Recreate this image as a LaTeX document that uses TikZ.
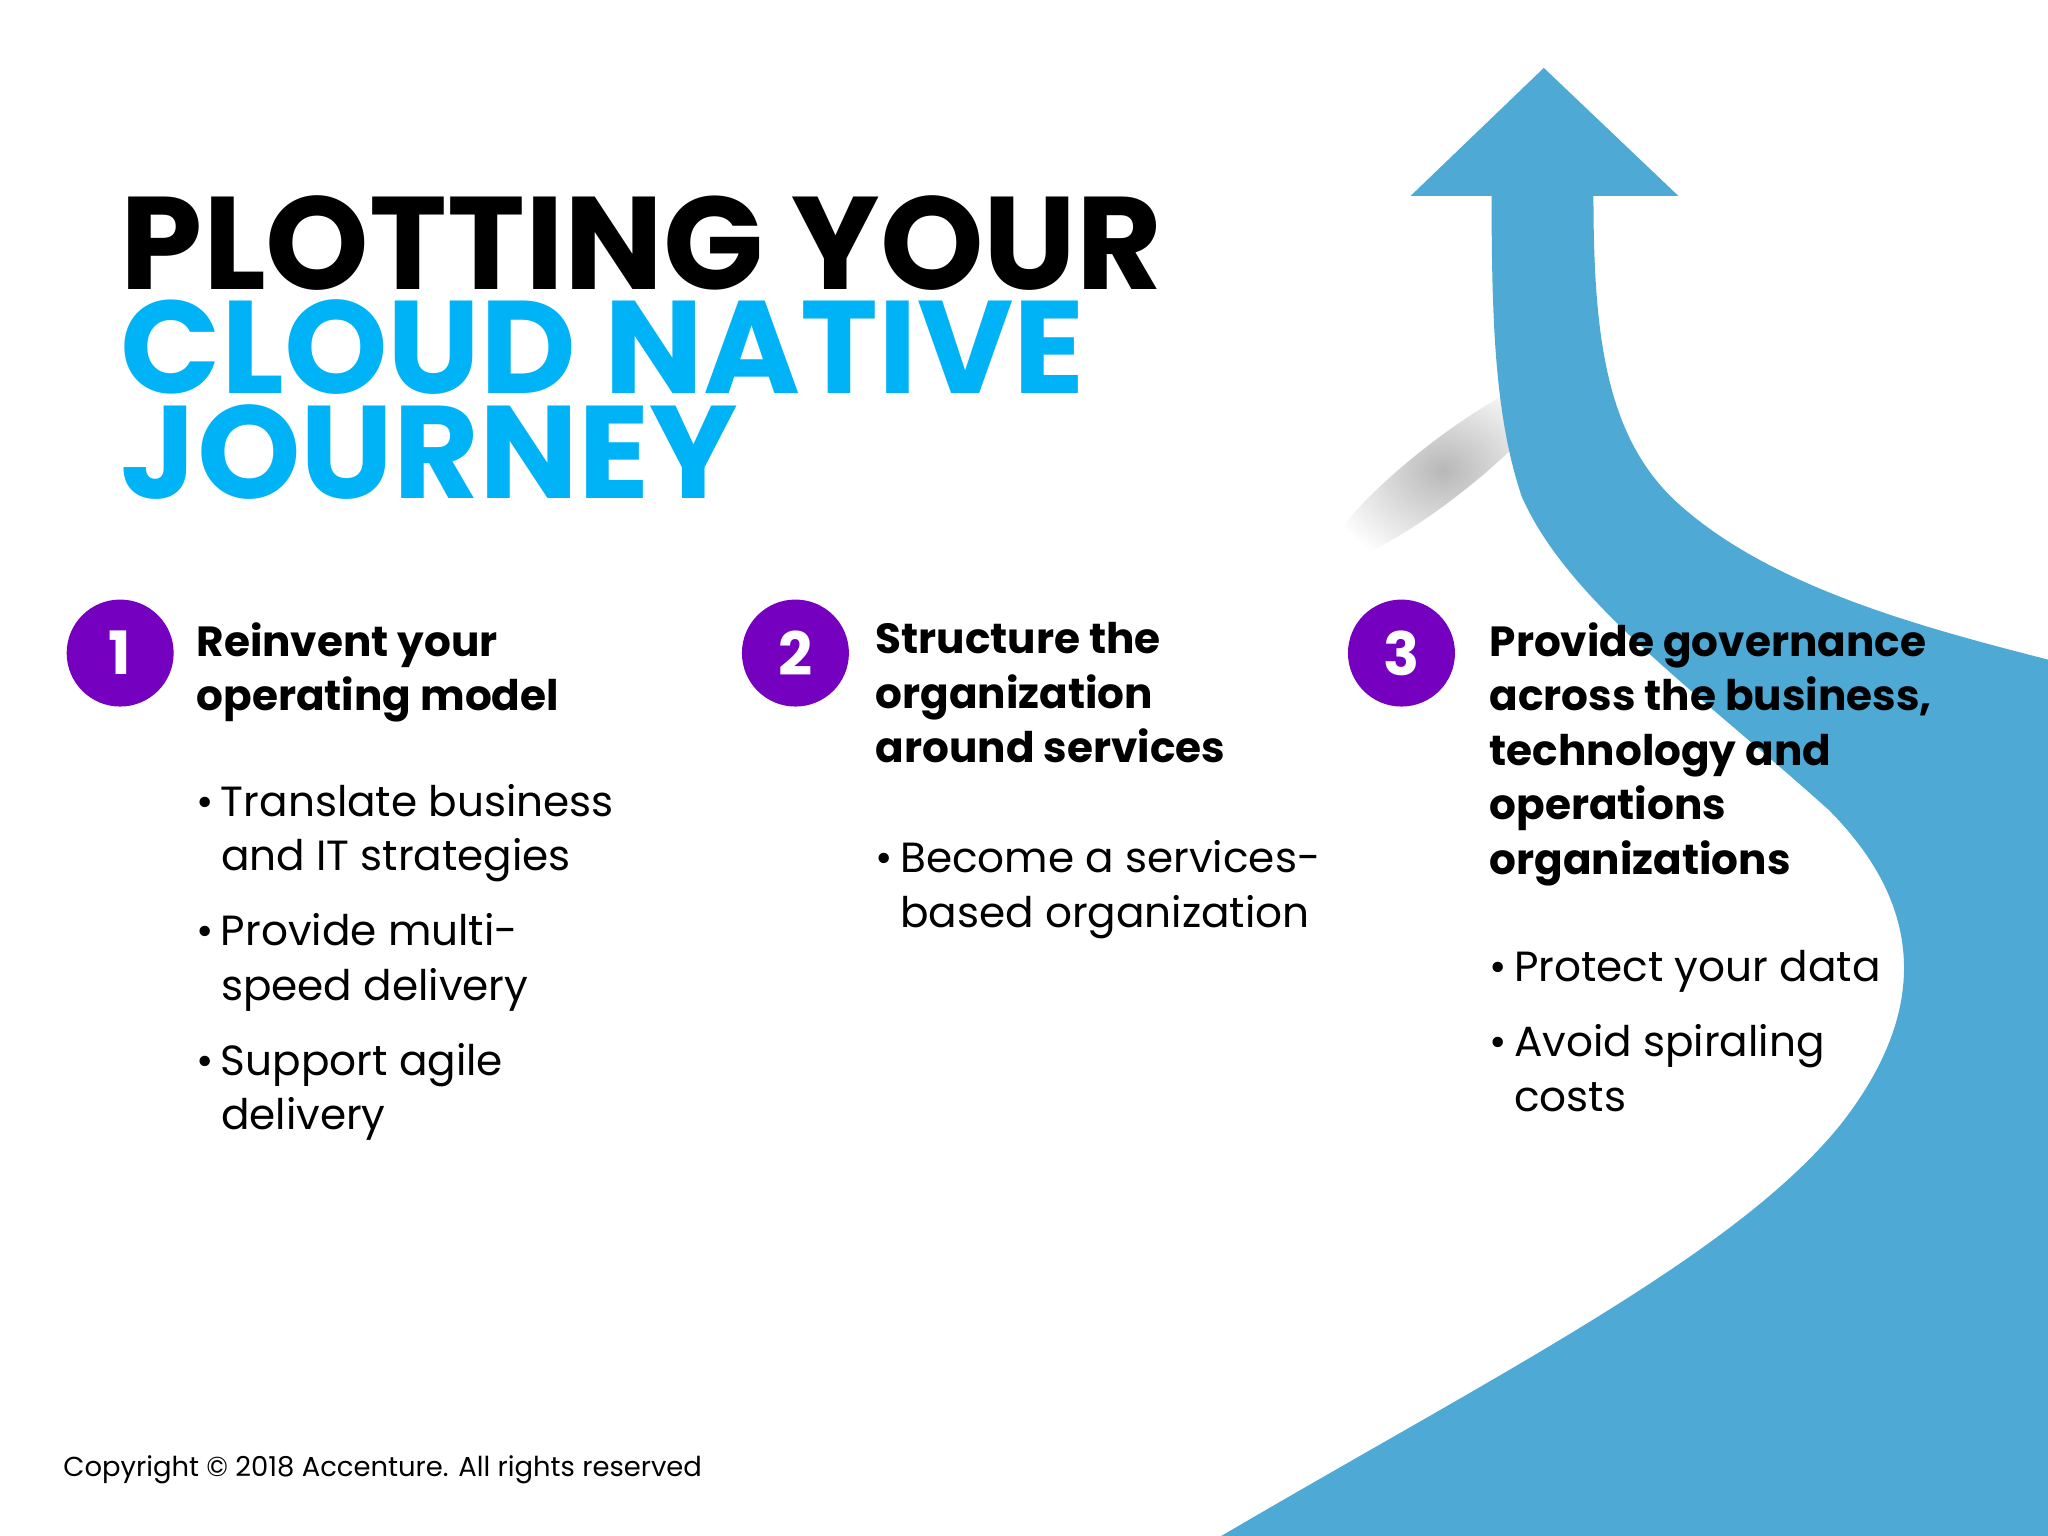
\documentclass[tikz,border=0pt]{standalone}
\usepackage{fontspec}
\setmainfont{Poppins}
\definecolor{acblue}{HTML}{00B2F6}
\definecolor{arrowblue}{HTML}{4FA9D5}
\definecolor{acpurple}{HTML}{7500C0}
\begin{document}
\begin{tikzpicture}[x=0.013061cm,y=-0.013061cm,
  num/.style={circle,fill=acpurple,minimum size=1.07cm,inner sep=0pt,text=white,font=\bfseries\fontsize{17}{17}\selectfont},
  head/.style={anchor=north west,align=left,font=\bfseries\fontsize{12}{15.5}\selectfont,inner sep=0pt},
  bul/.style={anchor=north west,align=left,font=\fontsize{12}{15.5}\selectfont,inner sep=0pt},
  title/.style={anchor=west,inner sep=0pt,font=\bfseries\fontsize{37.5}{37.5}\selectfont}]
\useasboundingbox (0,0) rectangle (1568,1176);
\fill[white] (0,0) rectangle (1568,1176);
% shadow
\shade[inner color=black!28,outer color=white,rotate around={38:(1105,360)}] (1105,360) ellipse (110 and 22);
% arrow
\fill[arrowblue] (935,1176) .. controls (1150,1050) and (1330,960) .. (1410,860)
  .. controls (1480,770) and (1470,690) .. (1400,620)
  .. controls (1300,530) and (1200,460) .. (1165,380)
  .. controls (1145,320) and (1142,250) .. (1142,150)
  -- (1080,150) -- (1182,52) -- (1285,150) -- (1220,150)
  .. controls (1220,260) and (1230,340) .. (1290,390)
  .. controls (1360,450) and (1470,480) .. (1568,505)
  -- (1568,1176) -- cycle;
% title
\node[title] (t1) at (92,186) {PLOTTING YOUR};
\node[title,text=acblue] (t2) at (92,266) {CLOUD NATIVE};
\node[title,text=acblue] (t3) at (92,346) {JOURNEY};
% columns
\node[num] (n1) at (92,500) {1};
\node[num] (n2) at (609,500) {2};
\node[num] (n3) at (1073,500) {3};
\node[head] (h1) at (150,476) {Reinvent your\\operating model};
\node[head] (h2) at (670,476) {Structure the\\organization\\around services};
\node[head] (h3) at (1140,476) {Provide governance\\across the business,\\technology and\\operations\\organizations};
\node[bul] (b1) at (150,600) {•\,Translate business\\\phantom{•\,}and IT strategies};
\node[bul] (b2) at (150,699) {•\,Provide multi-\\\phantom{•\,}speed delivery};
\node[bul] (b3) at (150,798) {•\,Support agile\\\phantom{•\,}delivery};
\node[bul] (b4) at (670,643) {•\,Become a services-\\\phantom{•\,}based organization};
\node[bul] (b5) at (1140,727) {•\,Protect your data};
\node[bul] (b6) at (1140,784) {•\,Avoid spiraling\\\phantom{•\,}costs};
\node[anchor=west,inner sep=0pt,font=\fontsize{7.8}{9}\selectfont] (c) at (48,1125) {Copyright © 2018 Accenture. All rights reserved};
\end{tikzpicture}
\end{document}
